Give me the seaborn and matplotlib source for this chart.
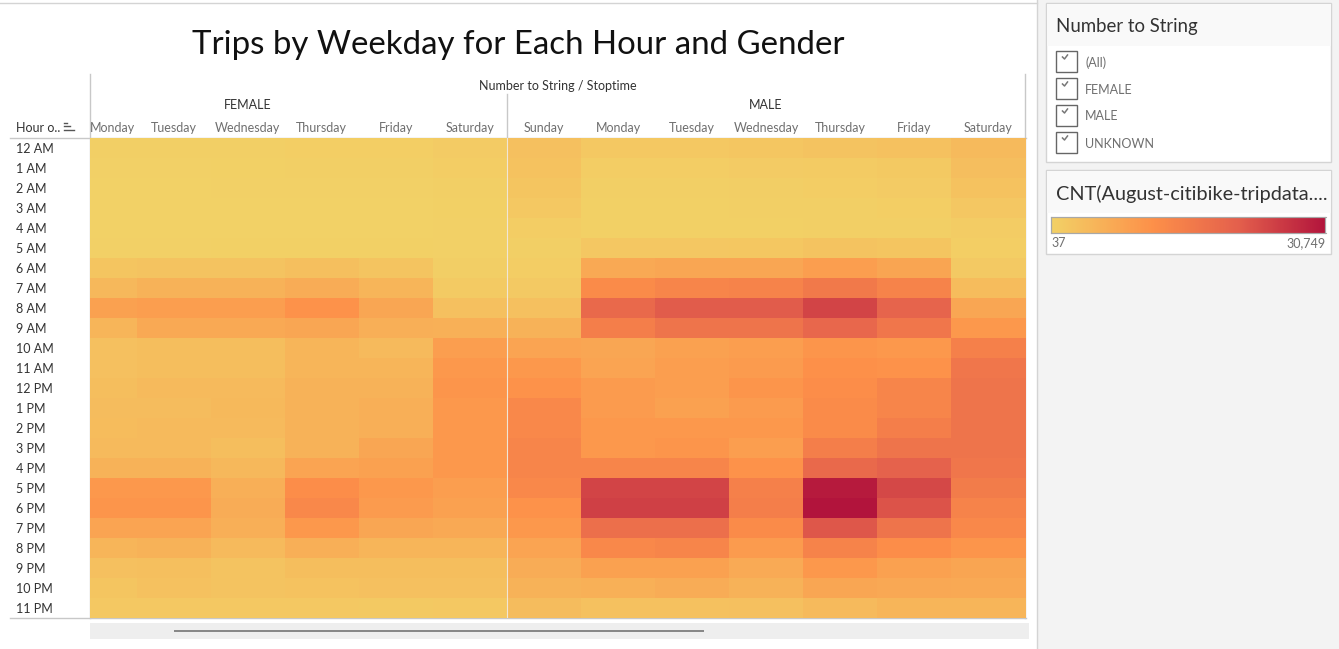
import numpy as np
import pandas as pd
import matplotlib
matplotlib.use("Agg")
import matplotlib.pyplot as plt
from matplotlib.colors import LinearSegmentedColormap
from matplotlib.patches import Rectangle
import seaborn as sns

hours = ["12 AM","1 AM","2 AM","3 AM","4 AM","5 AM","6 AM","7 AM","8 AM","9 AM","10 AM","11 AM",
         "12 PM","1 PM","2 PM","3 PM","4 PM","5 PM","6 PM","7 PM","8 PM","9 PM","10 PM","11 PM"]
female_days = ["Monday","Tuesday","Wednesday","Thursday","Friday","Saturday"]
male_days = ["Sunday","Monday","Tuesday","Wednesday","Thursday","Friday","Saturday"]
female_counts = [
 [400,400,500,700,700,1100],[250,250,300,400,400,800],[150,150,200,250,250,500],
 [100,100,100,150,150,350],[100,100,100,150,150,200],[200,200,300,300,300,200],
 [2200,2500,2500,3200,2400,600],[4500,5500,5500,6500,5000,1300],[8500,9000,9000,11000,7500,3000],
 [5000,7000,7000,7500,6000,5800],[3000,3500,3500,5000,4000,9000],[3000,3500,3500,5000,5000,10000],
 [3500,4000,4200,5500,5500,10500],[3700,3700,4300,5500,6000,10000],[3800,4000,4200,5500,6000,10000],
 [4000,4200,3500,5500,7500,10000],[5500,5500,4500,8000,8500,10000],[10000,10000,6000,12000,10000,9000],
 [10500,10500,6500,13000,9500,8500],[8000,8000,6000,10000,7500,7000],[5000,5500,4000,6000,5000,5000],
 [3000,3200,2500,3500,3500,3500],[2200,2800,2500,2700,3000,3000],[1700,1600,1600,1700,1500,1600]]
male_counts = [
 [3000,1700,1700,2000,2500,2800,4000],[2700,800,800,1000,1200,1500,3300],[2300,500,500,600,800,1000,2700],
 [1600,300,300,400,400,700,1800],[800,300,300,300,400,500,900],[500,1800,1800,1900,2600,2200,700],
 [800,7000,7500,7500,9000,7800,1400],[1400,12500,13500,14000,16000,14000,3800],[3000,19000,21500,21500,24500,20000,7500],
 [5500,15000,17000,17000,19500,16500,10000],[8000,7500,8500,9000,10500,10000,14500],[10000,8000,9000,9500,11500,11000,16500],
 [11000,9500,9000,10500,12000,13500,17000],[13000,9500,8500,9500,12500,13500,17000],[13000,10000,10000,10000,12500,15000,17000],
 [13500,10000,10500,9000,15000,17000,17000],[13500,13500,13500,11000,19000,20500,16500],[13000,24500,24500,14500,30000,24000,15500],
 [11000,25000,25000,15000,30749,22500,14000],[10000,18000,18000,12500,22000,17000,13000],[8000,13000,13500,9500,14000,12000,10500],
 [6500,8500,8500,6800,10000,8500,7800],[5500,5800,6500,5500,7500,7200,7000],[3700,2800,2800,3000,4000,5000,5000]]
filter_items = ["(All)","FEMALE","MALE","UNKNOWN"]
count_min, count_max = 37, 30749

W, H = 1339, 649
plt.rcParams["font.family"] = ["Lato", "DejaVu Sans"]
fig = plt.figure(figsize=(W/100, H/100), dpi=100, facecolor="white")

def rect_axes(x0, y0, x1, y1, **kw):
    return fig.add_axes([x0/W, 1-y1/H, (x1-x0)/W, (y1-y0)/H], **kw)

# chrome layer in pixel coordinates
bg = rect_axes(0, 0, W, H)
bg.set_xlim(0, W); bg.set_ylim(H, 0); bg.axis("off")
bg.add_patch(Rectangle((1038, 0), W-1038, H, fc="#F3F3F3", ec="none"))
bg.plot([1037, 1037], [0, H], color="#D4D4D4", lw=1)
bg.plot([0, 1037], [3, 3], color="#D4D4D4", lw=1)

cmap = LinearSegmentedColormap.from_list("sunset", [(0, "#F2D166"), (0.37, "#FD9049"), (0.68, "#E4604C"), (1, "#B2143C")])

data = pd.DataFrame(np.hstack([np.array(female_counts), np.array(male_counts)]), index=hours)
ax = rect_axes(89.5, 138, 1025.5, 618)
cax = rect_axes(1051, 217, 1325.5, 232.5)
sns.heatmap(data, ax=ax, cmap=cmap, vmin=count_min, vmax=count_max, cbar_ax=cax,
            cbar_kws={"orientation": "horizontal", "ticks": []}, xticklabels=False, yticklabels=False)
ax.set_xlim(0.365, 13)
ax.set_xlabel(""); ax.set_ylabel("")
ax.axvline(6, color="#F0E6D6", lw=0.8)
cax.tick_params(length=0)
cax.collections[0].set_edgecolor("face")
for s in cax.spines.values():
    s.set_visible(True); s.set_edgecolor("#A8A8A8"); s.set_linewidth(0.8)

# headers
txt = "#333333"; grey = "#6F6F6F"
bg.text(518, 45, "Trips by Weekday for Each Hour and Gender", fontsize=23.8, color="#111111", ha="center", va="center")
bg.text(558, 86, "Number to String / Stoptime", fontsize=9, color=txt, ha="center", va="center")
bg.text(248, 105, "FEMALE", fontsize=9, color=txt, ha="center", va="center")
bg.text(766, 105, "MALE", fontsize=9, color=txt, ha="center", va="center")
bg.text(16, 128, "Hour o..", fontsize=9, color=txt, ha="left", va="center")
for y, x1 in [(122.5, 67), (126, 70), (129.5, 74)]:
    bg.plot([64, x1], [y, y], color="#555555", lw=1)
bg.plot([90, 90], [74, 618], color="#C8C8C8", lw=1)
bg.plot([1025, 1025], [74, 618], color="#C8C8C8", lw=1)
bg.plot([507, 507], [94, 138], color="#C8C8C8", lw=1)
bg.plot([10, 1026], [138, 138], color="#C8C8C8", lw=1)
bg.plot([10, 1026], [618, 618], color="#C8C8C8", lw=1)

for i, d in enumerate(female_days + male_days):
    xc = ax.transData.transform((i + 0.5, 0))[0]
    if i == 0:
        bg.text(90, 128, d, fontsize=9, color=grey, ha="left", va="center")
    else:
        bg.text(xc, 128, d, fontsize=9, color=grey, ha="center", va="center")
for r, h in enumerate(hours):
    bg.text(16, 149 + 20*r, h, fontsize=9, color=txt, ha="left", va="center")

# scrollbar
bg.add_patch(Rectangle((90, 623), 939, 16, fc="#EEEEEE", ec="none"))
bg.add_patch(Rectangle((174, 630), 530, 2, fc="#888888", ec="none"))

# filter panel
bg.add_patch(Rectangle((1046, 3), 285, 158.5, fc="white", ec="#D4D4D4", lw=1))
bg.add_patch(Rectangle((1046.5, 3.5), 284, 42.5, fc="#F9F9F9", ec="none"))
bg.text(1056, 26.5, "Number to String", fontsize=13.4, color="#333333", ha="left", va="center")
for i, item in enumerate(filter_items):
    y = 62 + 27*i
    bg.add_patch(Rectangle((1056, y-11), 21, 21, fc="white", ec="#666666", lw=1))
    bg.plot([1062.5, 1064.5, 1067.5], [y-5, y-3, y-7], color="#777777", lw=1.1)
    bg.text(1085, y+0.5, item, fontsize=9, color=grey, ha="left", va="center")

# colour legend panel
bg.add_patch(Rectangle((1046, 170), 285, 83.5, fc="white", ec="#D4D4D4", lw=1))
bg.add_patch(Rectangle((1046.5, 170.5), 284, 42.5, fc="#F9F9F9", ec="none"))
bg.text(1056, 193.5, "CNT(August-citibike-tripdata....", fontsize=14.3, color="#333333", ha="left", va="center")
bg.text(1051, 243, f"{count_min:,}", fontsize=9, color=grey, ha="left", va="center")
bg.text(1326, 243, f"{count_max:,}", fontsize=9, color=grey, ha="right", va="center")

fig.savefig("out.png", dpi=100)
